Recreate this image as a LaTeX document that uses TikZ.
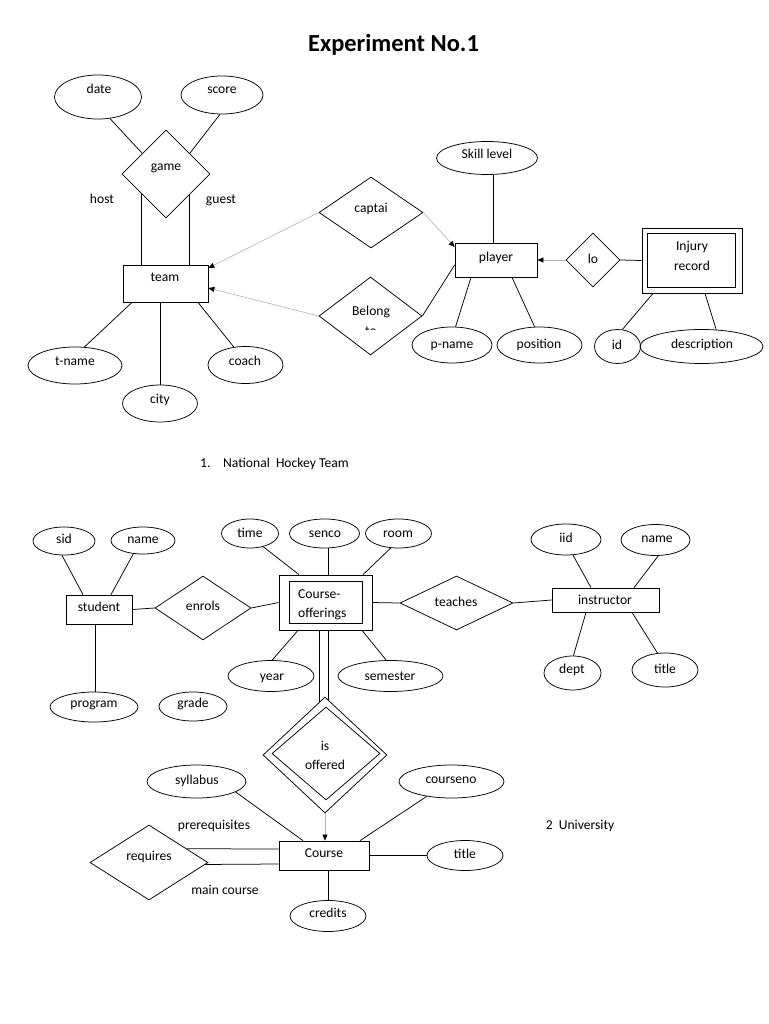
\documentclass[tikz,border=0pt]{standalone}
\usepackage{fontspec}
\setmainfont{Carlito}
\usetikzlibrary{shapes.geometric,arrows.meta,calc}
\begin{document}
\begin{tikzpicture}[x=1pt,y=-1pt,
  lw/.style={line width=0.75pt},
  ent/.style={draw,lw,rectangle,inner sep=0pt},
  attr/.style={draw,lw,ellipse,inner sep=0pt},
  rel/.style={draw,lw,diamond,inner sep=0pt},
  wh/.style 2 args={minimum width=#1pt,minimum height=#2pt},
  txt/.style={font=\fontsize{13.6}{16}\selectfont,inner sep=0pt,text height=9.5pt,text depth=3pt},
  tit/.style={font=\bfseries\fontsize{24.5}{29}\selectfont,inner sep=0pt},
  ln/.style={lw},
  gl/.style={draw=black!30,line width=0.6pt,-{Triangle[color=black,length=6pt,width=5pt]}}]
\fill[white] (0,0) rectangle (768,1024);
\path[use as bounding box] (0,0) rectangle (768,1024);

\node[tit,anchor=base] (title) at (393.5,52) {Experiment No.1};

% ---------- part 1 ----------
\node[attr,wh={87}{44}] (date) at (98,97) {};
\node[attr,wh={82}{38}] (score) at (222,95) {};
\node[rel,wh={88}{88}] (game) at (166,174) {};
\node[ent,wh={85}{37}] (team) at (165.5,283.5) {};
\node[attr,wh={94}{37}] (tname) at (75,365.5) {};
\node[attr,wh={75}{37}] (city) at (160,403.5) {};
\node[attr,wh={75}{37}] (coach) at (245.5,365) {};
\node[rel,wh={104}{71}] (captai) at (371,212.5) {};
\node[rel,wh={103}{78}] (belong) at (370.5,316) {};
\node[ent,wh={82}{34}] (player) at (496,260) {};
\node[attr,wh={101}{33}] (skill) at (487,158) {};
\node[rel,wh={54}{54}] (lo) at (593,260) {};
\node[ent,wh={100}{65}] (injury) at (692,260.5) {};
\node[ent,wh={88}{54}] (injuryin) at (691,260) {};
\node[attr,wh={80}{36}] (pname) at (452,345) {};
\node[attr,wh={85}{36}] (position) at (539.5,345) {};
\node[attr,wh={46}{34}] (id) at (617.5,346.5) {};
\node[attr,wh={123}{34}] (descr) at (701.5,346.5) {};

\draw[ln] (date.-61) -- (game.139);
\draw[ln] (score.-96) -- (game.41);
\draw[ln] (game.-140) -- (game.-140 |- team.north);
\draw[ln] (game.-41) -- (game.-41 |- team.north);
\draw[ln] ([xshift=-33.5pt]team.south) -- (tname.63);
\draw[ln] ([xshift=-5.5pt]team.south) -- ([xshift=-5.5pt]team.south |- city.north);
\draw[ln] ([xshift=32.5pt]team.south) -- (coach.123);
\draw[gl] (captai.west) -- ([yshift=15.5pt]team.east);
\draw[gl] (belong.west) -- ([yshift=-4.5pt]team.east);
\draw[gl] (captai.east) -- ([yshift=13pt]player.west);
\draw[ln] (belong.east) -- ([yshift=-5pt]player.west);
\draw[ln] ([xshift=-3pt]player.north) -- ([xshift=-3pt]player.north |- skill.south);
\draw[gl] (lo.west) -- (player.east);
\draw[ln] (lo.east) -- (injury.west);
\draw[ln] ([xshift=-25pt]player.south) -- (pname.79);
\draw[ln] ([xshift=16pt]player.south) -- (position.105);
\draw[ln] ([xshift=-39pt]injury.south) -- (id.74);
\draw[ln] ([xshift=13pt]injury.south) -- (descr.49);

\node[txt] (l-date) at (99,90) {date};
\node[txt] (l-score) at (222,90) {score};
\node[txt] (l-game) at (166,167) {game};
\node[txt] (l-host) at (102,200) {host};
\node[txt] (l-guest) at (221,200) {guest};
\node[txt] (l-team) at (165,278) {team};
\node[txt] (l-tname) at (75,362) {t-name};
\node[txt] (l-city) at (160,400) {city};
\node[txt] (l-coach) at (245,362) {coach};
\node[txt] (l-captai) at (371,209) {captai};
\node[txt] (l-belong) at (371,312) {Belong};
\begin{scope}
\clip (300,320) rectangle (440,329);
\node[txt] (l-to) at (371,332) {to};
\end{scope}
\node[txt] (l-skill) at (487,155) {Skill level};
\node[txt] (l-player) at (496,258) {player};
\node[txt] (l-lo) at (593,260) {lo};
\node[txt] (l-injury) at (692,247) {Injury};
\node[txt] (l-record) at (692,267) {record};
\node[txt] (l-pname) at (452,345) {p-name};
\node[txt] (l-position) at (539,345) {position};
\node[txt] (l-id) at (617,346) {id};
\node[txt] (l-descr) at (702,345) {description};

\node[txt,anchor=west] (cap1n) at (200,464) {1.};
\node[txt,anchor=west] (cap1) at (223,464) {National\ \ Hockey Team};

% ---------- part 2 ----------
\node[attr,wh={62}{28}] (sid) at (64,541) {};
\node[attr,wh={64}{27}] (sname) at (143,540.5) {};
\node[ent,wh={66}{29}] (student) at (99,609.5) {};
\node[attr,wh={88}{30}] (program) at (94,707) {};
\node[attr,wh={68}{29}] (grade) at (193,706.5) {};
\node[rel,wh={96}{64}] (enrols) at (203,608) {};
\node[ent,wh={93}{55}] (co) at (325.5,602.5) {};
\node[ent,wh={73}{42}] (coin) at (325.5,602) {};
\node[attr,wh={57}{29}] (time) at (250,533.5) {};
\node[attr,wh={70}{29}] (senco) at (324.5,533.5) {};
\node[attr,wh={66}{29}] (room) at (398.5,533.5) {};
\node[attr,wh={86}{31}] (year) at (271,676) {};
\node[attr,wh={105}{31}] (semester) at (390.5,676) {};
\node[rel,wh={113}{54}] (teaches) at (456.5,603) {};
\node[ent,wh={107}{24}] (instr) at (605.5,600) {};
\node[attr,wh={70}{31}] (iid) at (566,539.5) {};
\node[attr,wh={69}{31}] (iname) at (655.5,540) {};
\node[attr,wh={57}{34}] (dept) at (572.5,673) {};
\node[attr,wh={66}{34}] (ititle) at (665,670) {};
\node[rel,wh={124}{116}] (isoff) at (325,755) {};
\node[rel,wh={108}{93}] (isoffin) at (326,753.5) {};
\node[ent,wh={90}{29}] (course) at (324,855.5) {};
\node[attr,wh={99}{33}] (syll) at (196.5,781.5) {};
\node[attr,wh={105}{33}] (cno) at (451.5,781.5) {};
\node[attr,wh={76}{30}] (ctitle) at (465,855.5) {};
\node[attr,wh={76}{31}] (credits) at (328,916) {};
\node[rel,wh={118}{75}] (requires) at (149,862.5) {};

\draw[ln] (sid.-98) -- ([xshift=-16pt]student.north);
\draw[ln] (sname.-126) -- ([xshift=12pt]student.north);
\draw[ln] ([xshift=-4pt]student.south) -- ([xshift=-4pt]student.south |- program.north);
\draw[ln] (student.east) -- (enrols.west);
\draw[ln] (enrols.east) -- (co.west);
\draw[ln] (time.-45) -- ([xshift=-26.5pt]co.north);
\draw[ln] ([xshift=2.5pt]co.north) -- ([xshift=2.5pt]co.north |- senco.south);
\draw[ln] (room.-118) -- ([xshift=37.5pt]co.north);
\draw[ln] ([xshift=-27.5pt]co.south) -- (year.86);
\draw[ln] ([xshift=36.5pt]co.south) -- (semester.105);
\draw[ln] (co.east) -- (teaches.west);
\draw[ln] (teaches.east) -- (instr.west);
\draw[ln] (iid.-66) -- ([xshift=-14.5pt]instr.north);
\draw[ln] (iname.-80) -- ([xshift=28.5pt]instr.north);
\draw[ln] ([xshift=-19.5pt]instr.south) -- (dept.87);
\draw[ln] ([xshift=26.5pt]instr.south) -- (ititle.114);
\coordinate (dl1) at ($(isoff.north)!0.089!(isoff.west)$);
\coordinate (dl2) at ($(isoff.north)!0.056!(isoff.east)$);
\draw[ln] (dl1 |- co.south) -- (dl1);
\draw[ln] (dl2 |- co.south) -- (dl2);
\draw[gl] (isoff.south) -- (isoff.south |- course.north);
\draw[ln] (syll.-15) -- ([xshift=-21pt]course.north);
\draw[ln] (cno.-149) -- ([xshift=36pt]course.north);
\draw[ln] (course.east) -- (ctitle.west);
\draw[ln] ([xshift=4pt]course.south) -- ([xshift=4pt]course.south |- credits.north);
\draw[ln] (requires.20) -- ([yshift=6.5pt]course.west);
\draw[ln] (requires.-2) -- ([yshift=-8.5pt]course.west);

\node[txt] (l-sid) at (64,540) {sid};
\node[txt] (l-sname) at (143,540) {name};
\node[txt] (l-student) at (99,608) {student};
\node[txt] (l-enrols) at (203,607) {enrols};
\node[txt,anchor=west] (l-co1) at (298,595) {Course-};
\node[txt,anchor=west] (l-co2) at (298,614) {offerings};
\node[txt] (l-time) at (250,534) {time};
\node[txt] (l-senco) at (325,534) {senco};
\node[txt] (l-room) at (398,534) {room};
\node[txt] (l-teaches) at (456,603) {teaches};
\node[txt] (l-instr) at (605,601) {instructor};
\node[txt] (l-iid) at (566,539) {iid};
\node[txt] (l-iname) at (657,539) {name};
\node[txt] (l-dept) at (572,670) {dept};
\node[txt] (l-ititle) at (665,670) {title};
\node[txt] (l-year) at (272,677) {year};
\node[txt] (l-semester) at (390,677) {semester};
\node[txt] (l-program) at (94,704) {program};
\node[txt] (l-grade) at (193,704) {grade};
\node[txt] (l-is) at (325,747) {is};
\node[txt] (l-offered) at (325,766) {offered};
\node[txt] (l-syll) at (197,781) {syllabus};
\node[txt] (l-cno) at (451,780) {courseno};
\node[txt] (l-prereq) at (214,826) {prerequisites};
\node[txt] (l-main) at (225,891) {main course};
\node[txt] (l-course) at (324,854) {Course};
\node[txt] (l-ctitle) at (465,855) {title};
\node[txt] (l-credits) at (328,914) {credits};
\node[txt] (l-requires) at (149,857) {requires};
\node[txt] (cap2) at (580,826) {2\ \ University};
\end{tikzpicture}
\end{document}
